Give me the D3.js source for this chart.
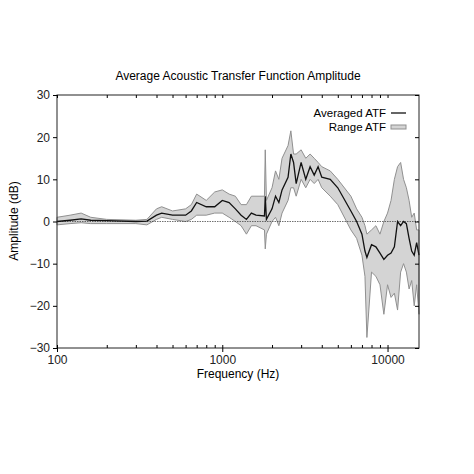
<!DOCTYPE html>
<html><head><meta charset="utf-8">
<script src="https://cdn.jsdelivr.net/npm/d3@7"></script>
<style>body{margin:0;background:#fff}text{font-family:Arial,"Liberation Sans",sans-serif}</style>
</head><body>
<svg id="c" width="474" height="474"></svg>
<script>
// frequency (Hz), mean ATF, lower and upper range (dB)
let freq = [100,120,140,160,200,300,350,400,430,500,600,650,700,800,900,1000,1100,1200,1300,1400,1500,1600,1800,1820,1850,2000,2100,2200,2300,2500,2600,2700,2800,3000,3200,3400,3600,3800,4000,4500,5000,6000,6500,7000,7300,7500,8000,8500,9000,9500,10000,10500,11000,11500,12000,12500,13000,13500,14000,14500,15000,15500]
let mean = [0,0.3,0.6,0.3,0.2,0,0.1,1.5,2,1.5,1.5,2.5,4.5,3.5,3.5,5,4.5,3,1.5,0.5,2,1.5,1.3,6,0.5,3,6,4.5,7.5,10.5,16,14,9,14,10,13,11,13,10.5,10,8,2.5,0,-3,-7,-8.5,-5.5,-6,-7.5,-9,-8,-7.5,-6,0,-1,0,-0.5,-4,-7,-8,-5,-8]
let lo = [-0.8,-0.5,-0.3,-0.5,-0.5,-0.5,-0.8,0.5,1,0.5,0,0.5,1.5,1.5,2,2,1,0,-1,-3,-1,-1,-2,-6.5,-3,0,1,-1,2,5,8,8,6,10,8,10,9,10,8,6,4,-2,-4,-8,-13,-27.5,-12,-13,-15,-22,-15,-18,-17,-21,-12,-10,-12,-16,-14,-20,-15,-22]
let hi = [1,1.5,2,1,0.5,0.3,0.5,3,3.5,2.5,3,4,6.5,5,7,7.5,6.5,6,4,4,6,6,6,17,5,8,12,10,15,18,21.5,16,16,17,15,16,15,14,13,12,10,6,3,1,-1,-3,-2,-1,-3,0,2,5,10,13,14,10,8,5,1,2,-2,-2]
let yTicks = [-30,-20,-10,0,10,20,30]
let xTicks = [100,1000,10000]

const svg = d3.select('#c')
const m = {l:57, r:419, t:95, b:348}
const x = d3.scaleLog().domain([100,15500]).range([m.l,m.r])
const y = d3.scaleLinear().domain([-30,30]).range([m.b,m.t])
const pts = freq.map((f,i) => ({f, m:mean[i], lo:lo[i], hi:hi[i]}))

svg.append('path').datum(pts)
  .attr('d', d3.area().x(d=>x(d.f)).y0(d=>y(d.lo)).y1(d=>y(d.hi)))
  .attr('fill','#d4d4d4').attr('stroke','#909090').attr('stroke-width',1)

svg.append('line').attr('x1',m.l).attr('x2',m.r).attr('y1',y(0)).attr('y2',y(0))
  .attr('stroke','#333').attr('stroke-width',0.7).attr('stroke-dasharray','1.5,1')

svg.append('path').datum(pts)
  .attr('d', d3.line().x(d=>x(d.f)).y(d=>y(d.m)))
  .attr('fill','none').attr('stroke','#111').attr('stroke-width',1.3)

svg.append('rect').attr('x',m.l).attr('y',m.t).attr('width',m.r-m.l).attr('height',m.b-m.t)
  .attr('fill','none').attr('stroke','#222').attr('stroke-width',1)

const fmt = d => d
svg.append('g').attr('transform',`translate(0,${m.b})`)
  .call(d3.axisBottom(x).tickValues(xTicks).tickFormat(fmt).tickSize(4)).call(g=>g.select('.domain').remove())
svg.append('g').attr('transform',`translate(0,${m.t})`)
  .call(d3.axisTop(x).tickValues(x.ticks()).tickFormat('').tickSize(-3)).call(g=>g.select('.domain').remove())
svg.append('g').attr('transform',`translate(0,${m.b})`)
  .call(d3.axisBottom(x).tickValues(x.ticks()).tickFormat('').tickSize(-3)).call(g=>g.select('.domain').remove())
svg.append('g').attr('transform',`translate(${m.l},0)`)
  .call(d3.axisLeft(y).tickValues(yTicks).tickSize(4)).call(g=>g.select('.domain').remove())
svg.append('g').attr('transform',`translate(${m.r},0)`)
  .call(d3.axisRight(y).tickValues(yTicks).tickFormat('').tickSize(-4)).call(g=>g.select('.domain').remove())
svg.selectAll('.tick text').attr('font-size',12).attr('fill','#222')

svg.append('text').attr('x',238).attr('y',80).attr('text-anchor','middle').attr('font-size',12).text('Average Acoustic Transfer Function Amplitude')
svg.append('text').attr('x',238).attr('y',378).attr('text-anchor','middle').attr('font-size',12).text('Frequency (Hz)')
svg.append('text').attr('transform','translate(18,221) rotate(-90)').attr('text-anchor','middle').attr('font-size',12).text('Amplitude (dB)')

const lg = svg.append('g').attr('font-size',11.5)
lg.append('text').attr('x',386).attr('y',117).attr('text-anchor','end').text('Averaged ATF')
lg.append('line').attr('x1',391).attr('x2',406).attr('y1',113).attr('y2',113).attr('stroke','#111').attr('stroke-width',1.3)
lg.append('text').attr('x',386).attr('y',131).attr('text-anchor','end').text('Range ATF')
lg.append('rect').attr('x',391).attr('y',125).attr('width',15).attr('height',4).attr('fill','#d4d4d4').attr('stroke','#909090')
</script>
</body></html>
